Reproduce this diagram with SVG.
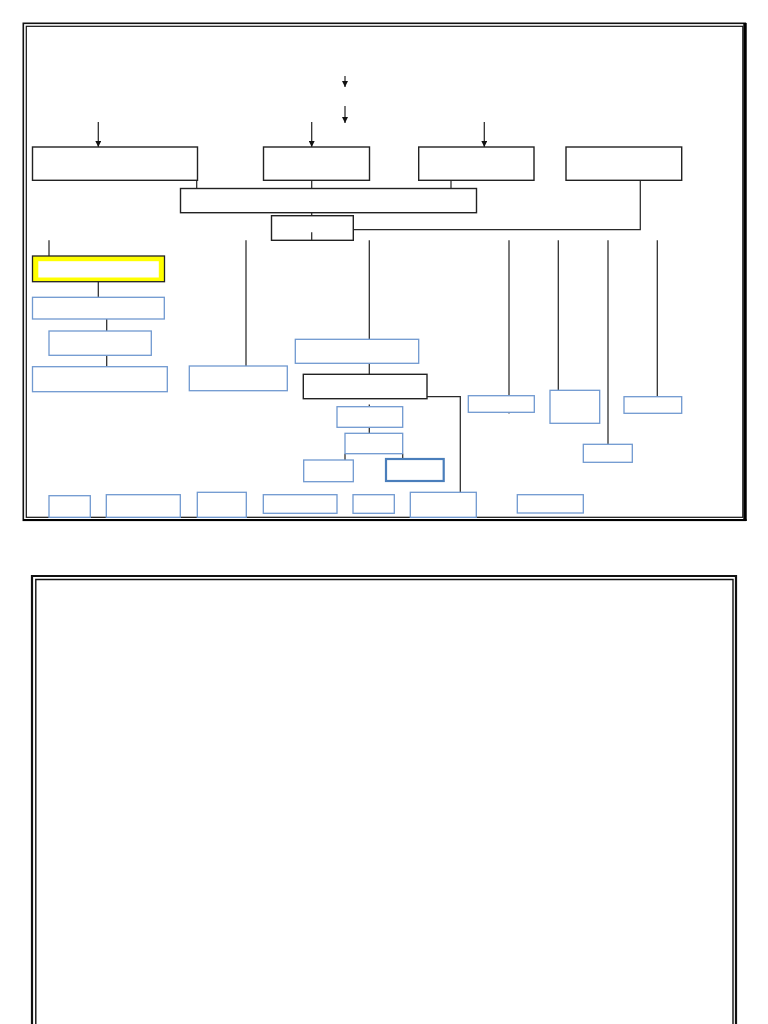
<svg xmlns="http://www.w3.org/2000/svg" width="768" height="1024" viewBox="0 0 768 1024">
<style>
.frame{fill:none;stroke:#111;}
.bk{fill:#fff;stroke:#222;stroke-width:1.4;}
.bl{fill:#fff;stroke:#7099D0;stroke-width:1.3;}
.blt{fill:#fff;stroke:#4A7EBB;stroke-width:2.2;}
.ln{fill:none;stroke:#2a2a2a;stroke-width:1.25;}
</style>
<defs>
<marker id="ah" viewBox="0 0 10 10" refX="10" refY="5" markerWidth="5" markerHeight="5" orient="auto">
<path d="M0,0 L10,5 L0,10 z" fill="#111"/>
</marker>
</defs>
<rect width="768" height="1024" fill="#fff"/>
<g id="frame-top">
<rect class="frame" x="23.3" y="23.3" width="722" height="497" stroke-width="1.6"/>
<rect class="frame" x="26.3" y="26.3" width="716.5" height="491" stroke-width="1.2" stroke="#555"/>
<line x1="745" y1="23" x2="745" y2="521" stroke="#000" stroke-width="3.4"/>
<line x1="23" y1="520" x2="746.5" y2="520" stroke="#000" stroke-width="2.2"/>
</g>
<g id="frame-bottom">
<path class="frame" d="M32,1030 V576 H736 V1030" stroke-width="2.2"/>
<path class="frame" d="M35.8,1030 V579.5 H733 V1030" stroke-width="1.4"/>
</g>
<g id="connectors">
<line class="ln" x1="345" y1="76" x2="345" y2="87" marker-end="url(#ah)"/>
<line class="ln" x1="345" y1="106" x2="345" y2="123" marker-end="url(#ah)"/>
<line class="ln" x1="98.3" y1="122" x2="98.3" y2="147" marker-end="url(#ah)"/>
<line class="ln" x1="311.7" y1="122" x2="311.7" y2="147" marker-end="url(#ah)"/>
<line class="ln" x1="484.3" y1="122" x2="484.3" y2="147" marker-end="url(#ah)"/>
<line class="ln" x1="196.7" y1="180" x2="196.7" y2="188.5" stroke="#777"/>
<line class="ln" x1="311.7" y1="180" x2="311.7" y2="188.5" stroke="#777"/>
<line class="ln" x1="451" y1="180" x2="451" y2="188.5" stroke="#777"/>
<line class="ln" x1="311.7" y1="212.7" x2="311.7" y2="215.7" stroke="#777"/>
<polyline class="ln" points="353.3,229.7 640.3,229.7 640.3,180.3" stroke="#555"/>
<line class="ln" x1="49" y1="240.3" x2="49" y2="256" stroke="#666"/>
<line class="ln" x1="246" y1="240.3" x2="246" y2="366" stroke="#666"/>
<line class="ln" x1="369.3" y1="240.3" x2="369.3" y2="339.3"/>
<line class="ln" x1="509" y1="240.3" x2="509" y2="413.5"/>
<line class="ln" x1="558.3" y1="240.3" x2="558.3" y2="390.3"/>
<line class="ln" x1="608" y1="240.3" x2="608" y2="444.3"/>
<line class="ln" x1="657.3" y1="240.3" x2="657.3" y2="396.7"/>
<line class="ln" x1="98.3" y1="281.7" x2="98.3" y2="297.3" stroke="#111"/>
<line class="ln" x1="106.7" y1="319" x2="106.7" y2="331" stroke="#111"/>
<line class="ln" x1="106.7" y1="355.3" x2="106.7" y2="366.7" stroke="#111"/>
<line class="ln" x1="369.3" y1="363.3" x2="369.3" y2="374.3"/>
<polyline class="ln" points="427,396.7 460.3,396.7 460.3,492.5"/>
<line class="ln" x1="369.3" y1="404.5" x2="369.3" y2="406.7"/>
<line class="ln" x1="369.3" y1="427.3" x2="369.3" y2="433.3"/>
<line class="ln" x1="345" y1="453.7" x2="345" y2="460"/>
<line class="ln" x1="402.7" y1="453.7" x2="402.7" y2="458.7"/>
</g>
<g id="box-a"><rect class="bk" x="32.5" y="147" width="165" height="33.3"/></g>
<g id="box-b"><rect class="bk" x="263.5" y="147" width="106" height="33.3"/></g>
<g id="box-f"><rect class="bk" x="418.7" y="147" width="115.3" height="33.3"/></g>
<g id="box-e"><rect class="bk" x="566" y="147" width="115.7" height="33.3"/></g>
<g id="box-c"><rect class="bk" x="180.5" y="188.5" width="296" height="24.2"/></g>
<g id="box-d"><rect class="bk" x="271.5" y="215.7" width="81.8" height="24.6"/><line class="ln" x1="311.7" y1="232.3" x2="311.7" y2="240.3"/></g>
<g id="box-yellow">
<rect x="32.5" y="256" width="132" height="25.7" fill="#FFFF00" stroke="#222" stroke-width="1.3"/>
<rect x="38.3" y="261.2" width="120.5" height="16.3" fill="#fff"/>
</g>
<g id="box-l1"><rect class="bl" x="32.5" y="297.3" width="131.8" height="21.7"/></g>
<g id="box-l2"><rect class="bl" x="49" y="331" width="102.3" height="24.3"/></g>
<g id="box-l3"><rect class="bl" x="32.5" y="366.7" width="134.8" height="25"/></g>
<g id="box-m1"><rect class="bl" x="189.3" y="366" width="98" height="24.7"/></g>
<g id="box-c1"><rect class="bl" x="295.3" y="339.3" width="123.4" height="24"/></g>
<g id="box-c2"><rect class="bk" x="303.3" y="374.3" width="123.7" height="24.4"/></g>
<g id="box-c3"><rect class="bl" x="337" y="406.7" width="65.7" height="20.6"/></g>
<g id="box-c4"><rect class="bl" x="345" y="433.3" width="57.7" height="20.4"/></g>
<g id="box-c5"><rect class="bl" x="303.7" y="460" width="49.6" height="21.7"/></g>
<g id="box-c6"><rect class="blt" x="386" y="459" width="57.7" height="22"/></g>
<g id="box-r1"><rect class="bl" x="468.3" y="395.7" width="66" height="16.6"/></g>
<g id="box-r2"><rect class="bl" x="550" y="390.3" width="49.7" height="33"/></g>
<g id="box-r3"><rect class="bl" x="583.3" y="444.3" width="49" height="18"/></g>
<g id="box-r4"><rect class="bl" x="624" y="396.7" width="57.7" height="16.6"/></g>
<g id="box-b1"><rect class="bl" x="49" y="495.7" width="41.3" height="21.6"/></g>
<g id="box-b2"><rect class="bl" x="106.3" y="494.7" width="74" height="22.6"/></g>
<g id="box-b3"><rect class="bl" x="197.3" y="492.3" width="49" height="25"/></g>
<g id="box-b4"><rect class="bl" x="263.3" y="494.7" width="73.7" height="18.6"/></g>
<g id="box-b5"><rect class="bl" x="353" y="494.7" width="41.3" height="18.6"/></g>
<g id="box-b6"><rect class="bl" x="410.3" y="492.3" width="66" height="25"/></g>
<g id="box-b7"><rect class="bl" x="517.3" y="494.7" width="66" height="18.3"/></g>
</svg>
